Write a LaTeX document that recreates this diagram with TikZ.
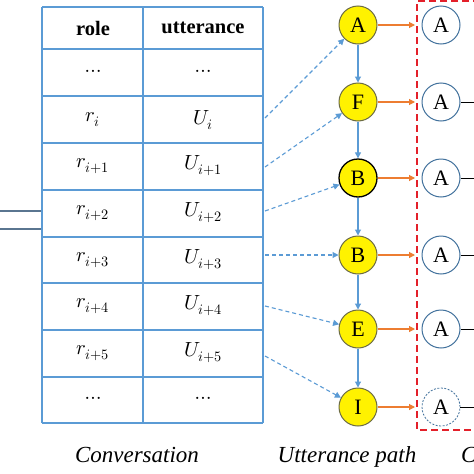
\documentclass[tikz,border=0pt]{standalone}
\usepackage{fontspec}
\usepackage{unicode-math}
\setmainfont{Liberation Serif}
\setmathfont{Latin Modern Math}
\usetikzlibrary{arrows.meta}
\definecolor{tblue}{HTML}{5B9BD5}
\definecolor{torange}{HTML}{ED7D31}
\definecolor{tred}{HTML}{E3202A}
\definecolor{cblue}{HTML}{41719C}
\definecolor{yolive}{HTML}{6B6B45}
\definecolor{slate}{HTML}{5A7590}
\begin{document}
\begin{tikzpicture}[x=1pt,y=-1pt,
  tline/.style={tblue,line width=1.3pt},
  hdr/.style={font=\fontsize{20.5}{22}\selectfont\bfseries},
  cell/.style={font=\fontsize{20.5}{23}\selectfont},
  ynode/.style={circle,fill=yellow,draw=yolive,line width=1pt,minimum size=38pt,inner sep=0pt,font=\fontsize{22}{24}\selectfont},
  wnode/.style={circle,fill=white,draw=cblue,line width=1pt,minimum size=38pt,inner sep=0pt,font=\fontsize{22}{24}\selectfont},
  dasharr/.style={tblue,line width=1.1pt,dash pattern=on 4pt off 3pt,-{Triangle[width=6pt,length=6pt]}},
  varr/.style={tblue,line width=1.1pt,-{Triangle[width=6pt,length=6pt]}},
  oarr/.style={torange,line width=1.1pt,-{Triangle[width=6pt,length=6pt]}},
  captxt/.style={font=\fontsize{23}{25}\selectfont\itshape,anchor=base}
]
\useasboundingbox (0,0) rectangle (474,474);
\fill[white] (0,0) rectangle (474,474);
% left small box
\draw[slate,line width=1.1pt] (-5,211) -- (42,211) -- (42,229) -- (-5,229);
% table grid
\foreach \y in {7,49,96,143,190,237,283,330,377,423}
  \draw[tline] (42,\y) -- (263,\y);
\foreach \x in {42,143,263}
  \draw[tline] (\x,7) -- (\x,423);
% header
\node[hdr] (hr) at (93,28) {role};
\node[hdr] (hu) at (203,28) {utterance};
% cells
\node[cell] (r0) at (93,73) {$\cdots$};
\node[cell] (u0) at (203,73) {$\cdots$};
\node[cell] (r1) at (93,120) {$r_i$};
\node[cell] (u1) at (203,120) {$U_i$};
\node[cell] (r2) at (93,166) {$r_{i+1}$};
\node[cell] (u2) at (203,166) {$U_{i+1}$};
\node[cell] (r3) at (93,213) {$r_{i+2}$};
\node[cell] (u3) at (203,213) {$U_{i+2}$};
\node[cell] (r4) at (93,260) {$r_{i+3}$};
\node[cell] (u4) at (203,260) {$U_{i+3}$};
\node[cell] (r5) at (93,306) {$r_{i+4}$};
\node[cell] (u5) at (203,306) {$U_{i+4}$};
\node[cell] (r6) at (93,353) {$r_{i+5}$};
\node[cell] (u6) at (203,353) {$U_{i+5}$};
\node[cell] (r7) at (93,400) {$\cdots$};
\node[cell] (u7) at (203,400) {$\cdots$};
% utterance path
\node[ynode] (p1) at (358,25) {A};
\node[ynode] (p2) at (358,102) {F};
\node[ynode,draw=black,line width=1.3pt] (p3) at (358,178) {B};
\node[ynode] (p4) at (358,255) {B};
\node[ynode] (p5) at (358,329) {E};
\node[ynode] (p6) at (358,407) {I};
\foreach \a/\b in {p1/p2,p2/p3,p3/p4,p4/p5,p5/p6}
  \draw[varr] (\a) -- (\b);
% dashed arrows from table
\coordinate (e1) at (265,118);
\coordinate (e2) at (265,167);
\coordinate (e3) at (265,211);
\coordinate (e4) at (265,255);
\coordinate (e5) at (265,306);
\coordinate (e6) at (265,356);
\foreach \i in {1,...,6}
  \draw[dasharr] (e\i) -- (p\i);
% red dashed box
\draw[tred,line width=2.5pt,dash pattern=on 7pt off 4pt] (480,1) -- (417,1) -- (417,430) -- (480,430);
% orange arrows
\foreach \i/\y in {1/25,2/102,3/178,4/255,5/329,6/407}{
  \coordinate (o\i) at (415,\y);
  \draw[oarr] (p\i) -- (o\i);
}
% right column
\node[wnode] (q1) at (441,25) {A};
\node[wnode] (q2) at (441,102) {A};
\node[wnode] (q3) at (441,178) {A};
\node[wnode] (q4) at (441,255) {A};
\node[wnode] (q5) at (441,329) {A};
\node[wnode,dash pattern=on 2pt off 1.5pt,line width=0.8pt] (q6) at (441,407) {A};
\foreach \i/\y in {2/102,3/178,4/255,5/329,6/407}{
  \coordinate (t\i) at (480,\y);
  \draw[black,line width=1pt] (q\i) -- (t\i);
}
% captions
\node[captxt] (c1) at (137,462) {Conversation};
\node[captxt] (c2) at (347,462) {Utterance path};
\node[captxt,anchor=base west,inner sep=0pt] (c3) at (461,462) {C};
\end{tikzpicture}
\end{document}
